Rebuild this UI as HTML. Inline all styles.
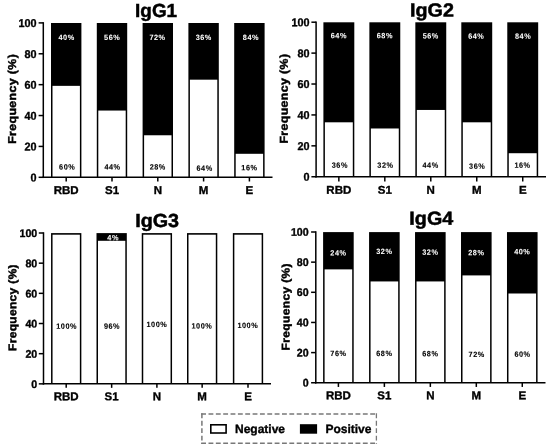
<!DOCTYPE html>
<html><head><meta charset="utf-8"><title>IgG subclass frequency</title>
<style>
html,body{margin:0;padding:0;background:#fff;}
svg{display:block;font-family:"Liberation Sans", Arial, sans-serif;font-weight:bold;}
</style></head>
<body>
<svg width="550" height="448" viewBox="0 0 550 448">
<rect width="550" height="448" fill="#fff"/>
<g><rect x="51.00" y="23.00" width="30.40" height="154.30" fill="#000"/>
<rect x="52.50" y="85.86" width="27.40" height="91.44" fill="#fff"/>
<line x1="66.20" y1="177.30" x2="66.20" y2="181.50" stroke="#000" stroke-width="1.5"/>
<text transform="translate(66.20,194.00) rotate(0.04) scale(1.02,1)" font-size="11.3" text-anchor="middle" fill="#000" stroke="#000" stroke-width="0.35">RBD</text>
<text transform="translate(66.60,40.00) rotate(0.04) scale(0.95,1)" font-size="7.7" text-anchor="middle" fill="#fff" stroke="#fff" stroke-width="0.05" letter-spacing="0.55">40%</text>
<text transform="translate(67.20,169.50) rotate(0.04) scale(0.95,1)" font-size="7.7" text-anchor="middle" fill="#000" stroke="#000" stroke-width="0.1" letter-spacing="0.55">60%</text>
<rect x="96.80" y="23.00" width="30.40" height="154.30" fill="#000"/>
<rect x="98.30" y="110.56" width="27.40" height="66.74" fill="#fff"/>
<line x1="112.00" y1="177.30" x2="112.00" y2="181.50" stroke="#000" stroke-width="1.5"/>
<text transform="translate(112.00,194.00) rotate(0.04) scale(1.02,1)" font-size="11.3" text-anchor="middle" fill="#000" stroke="#000" stroke-width="0.35">S1</text>
<text transform="translate(112.20,40.00) rotate(0.04) scale(0.95,1)" font-size="7.7" text-anchor="middle" fill="#fff" stroke="#fff" stroke-width="0.05" letter-spacing="0.55">56%</text>
<text transform="translate(112.50,169.50) rotate(0.04) scale(0.95,1)" font-size="7.7" text-anchor="middle" fill="#000" stroke="#000" stroke-width="0.1" letter-spacing="0.55">44%</text>
<rect x="142.60" y="23.00" width="30.40" height="154.30" fill="#000"/>
<rect x="144.10" y="135.27" width="27.40" height="42.03" fill="#fff"/>
<line x1="157.80" y1="177.30" x2="157.80" y2="181.50" stroke="#000" stroke-width="1.5"/>
<text transform="translate(157.80,194.00) rotate(0.04) scale(1.02,1)" font-size="11.3" text-anchor="middle" fill="#000" stroke="#000" stroke-width="0.35">N</text>
<text transform="translate(157.50,40.00) rotate(0.04) scale(0.95,1)" font-size="7.7" text-anchor="middle" fill="#fff" stroke="#fff" stroke-width="0.05" letter-spacing="0.55">72%</text>
<text transform="translate(157.80,169.50) rotate(0.04) scale(0.95,1)" font-size="7.7" text-anchor="middle" fill="#000" stroke="#000" stroke-width="0.1" letter-spacing="0.55">28%</text>
<rect x="188.40" y="23.00" width="30.40" height="154.30" fill="#000"/>
<rect x="189.90" y="79.68" width="27.40" height="97.62" fill="#fff"/>
<line x1="203.60" y1="177.30" x2="203.60" y2="181.50" stroke="#000" stroke-width="1.5"/>
<text transform="translate(203.60,194.00) rotate(0.04) scale(1.02,1)" font-size="11.3" text-anchor="middle" fill="#000" stroke="#000" stroke-width="0.35">M</text>
<text transform="translate(203.80,40.00) rotate(0.04) scale(0.95,1)" font-size="7.7" text-anchor="middle" fill="#fff" stroke="#fff" stroke-width="0.05" letter-spacing="0.55">36%</text>
<text transform="translate(204.60,170.70) rotate(0.04) scale(0.95,1)" font-size="7.7" text-anchor="middle" fill="#000" stroke="#000" stroke-width="0.1" letter-spacing="0.55">64%</text>
<rect x="234.20" y="23.00" width="30.40" height="154.30" fill="#000"/>
<rect x="235.70" y="153.80" width="27.40" height="23.50" fill="#fff"/>
<line x1="249.40" y1="177.30" x2="249.40" y2="181.50" stroke="#000" stroke-width="1.5"/>
<text transform="translate(249.40,194.00) rotate(0.04) scale(1.02,1)" font-size="11.3" text-anchor="middle" fill="#000" stroke="#000" stroke-width="0.35">E</text>
<text transform="translate(250.90,40.00) rotate(0.04) scale(0.95,1)" font-size="7.7" text-anchor="middle" fill="#fff" stroke="#fff" stroke-width="0.05" letter-spacing="0.55">84%</text>
<text transform="translate(249.40,170.20) rotate(0.04) scale(0.95,1)" font-size="7.7" text-anchor="middle" fill="#000" stroke="#000" stroke-width="0.1" letter-spacing="0.55">16%</text>
<line x1="43.30" y1="22.15" x2="43.30" y2="178.05" stroke="#000" stroke-width="1.5"/>
<line x1="42.55" y1="177.30" x2="272.50" y2="177.30" stroke="#000" stroke-width="1.5"/>
<line x1="38.60" y1="177.30" x2="43.30" y2="177.30" stroke="#000" stroke-width="1.5"/>
<text transform="translate(36.60,181.45) rotate(0.04) scale(0.96,1)" font-size="11.3" text-anchor="end" fill="#000" stroke="#000" stroke-width="0.35">0</text>
<line x1="38.60" y1="146.42" x2="43.30" y2="146.42" stroke="#000" stroke-width="1.5"/>
<text transform="translate(36.60,150.57) rotate(0.04) scale(0.96,1)" font-size="11.3" text-anchor="end" fill="#000" stroke="#000" stroke-width="0.35">20</text>
<line x1="38.60" y1="115.54" x2="43.30" y2="115.54" stroke="#000" stroke-width="1.5"/>
<text transform="translate(36.60,119.69) rotate(0.04) scale(0.96,1)" font-size="11.3" text-anchor="end" fill="#000" stroke="#000" stroke-width="0.35">40</text>
<line x1="38.60" y1="84.66" x2="43.30" y2="84.66" stroke="#000" stroke-width="1.5"/>
<text transform="translate(36.60,88.81) rotate(0.04) scale(0.96,1)" font-size="11.3" text-anchor="end" fill="#000" stroke="#000" stroke-width="0.35">60</text>
<line x1="38.60" y1="53.78" x2="43.30" y2="53.78" stroke="#000" stroke-width="1.5"/>
<text transform="translate(36.60,57.93) rotate(0.04) scale(0.96,1)" font-size="11.3" text-anchor="end" fill="#000" stroke="#000" stroke-width="0.35">80</text>
<line x1="38.60" y1="22.90" x2="43.30" y2="22.90" stroke="#000" stroke-width="1.5"/>
<text transform="translate(36.60,27.05) rotate(0.04) scale(0.96,1)" font-size="11.3" text-anchor="end" fill="#000" stroke="#000" stroke-width="0.35">100</text>
<text transform="translate(16.00,98.85) rotate(-89.95) scale(1.08,1)" font-size="11.4" text-anchor="middle" fill="#000" stroke="#000" stroke-width="0.45" letter-spacing="0.37">Frequency (%)</text>
<text transform="translate(156.10,17.00) rotate(0.04)" font-size="18.9" text-anchor="middle" fill="#000" stroke="#000" stroke-width="0.5">IgG1</text></g>
<g><rect x="323.40" y="22.30" width="30.90" height="154.45" fill="#000"/>
<rect x="324.90" y="122.31" width="27.90" height="54.44" fill="#fff"/>
<line x1="338.85" y1="176.75" x2="338.85" y2="181.50" stroke="#000" stroke-width="1.5"/>
<text transform="translate(338.85,193.65) rotate(0.04) scale(1.02,1)" font-size="11.3" text-anchor="middle" fill="#000" stroke="#000" stroke-width="0.35">RBD</text>
<text transform="translate(338.85,38.30) rotate(0.04) scale(0.95,1)" font-size="7.7" text-anchor="middle" fill="#fff" stroke="#fff" stroke-width="0.05" letter-spacing="0.55">64%</text>
<text transform="translate(339.85,167.80) rotate(0.04) scale(0.95,1)" font-size="7.7" text-anchor="middle" fill="#000" stroke="#000" stroke-width="0.1" letter-spacing="0.55">36%</text>
<rect x="369.37" y="22.30" width="30.90" height="154.45" fill="#000"/>
<rect x="370.87" y="128.49" width="27.90" height="48.26" fill="#fff"/>
<line x1="384.82" y1="176.75" x2="384.82" y2="181.50" stroke="#000" stroke-width="1.5"/>
<text transform="translate(384.82,193.65) rotate(0.04) scale(1.02,1)" font-size="11.3" text-anchor="middle" fill="#000" stroke="#000" stroke-width="0.35">S1</text>
<text transform="translate(384.82,38.30) rotate(0.04) scale(0.95,1)" font-size="7.7" text-anchor="middle" fill="#fff" stroke="#fff" stroke-width="0.05" letter-spacing="0.55">68%</text>
<text transform="translate(385.42,167.80) rotate(0.04) scale(0.95,1)" font-size="7.7" text-anchor="middle" fill="#000" stroke="#000" stroke-width="0.1" letter-spacing="0.55">32%</text>
<rect x="415.34" y="22.30" width="30.90" height="154.45" fill="#000"/>
<rect x="416.84" y="109.95" width="27.90" height="66.80" fill="#fff"/>
<line x1="430.79" y1="176.75" x2="430.79" y2="181.50" stroke="#000" stroke-width="1.5"/>
<text transform="translate(430.79,193.65) rotate(0.04) scale(1.02,1)" font-size="11.3" text-anchor="middle" fill="#000" stroke="#000" stroke-width="0.35">N</text>
<text transform="translate(430.79,38.60) rotate(0.04) scale(0.95,1)" font-size="7.7" text-anchor="middle" fill="#fff" stroke="#fff" stroke-width="0.05" letter-spacing="0.55">56%</text>
<text transform="translate(430.59,167.80) rotate(0.04) scale(0.95,1)" font-size="7.7" text-anchor="middle" fill="#000" stroke="#000" stroke-width="0.1" letter-spacing="0.55">44%</text>
<rect x="461.31" y="22.30" width="30.90" height="154.45" fill="#000"/>
<rect x="462.81" y="122.31" width="27.90" height="54.44" fill="#fff"/>
<line x1="476.76" y1="176.75" x2="476.76" y2="181.50" stroke="#000" stroke-width="1.5"/>
<text transform="translate(476.76,193.65) rotate(0.04) scale(1.02,1)" font-size="11.3" text-anchor="middle" fill="#000" stroke="#000" stroke-width="0.35">M</text>
<text transform="translate(476.26,38.80) rotate(0.04) scale(0.95,1)" font-size="7.7" text-anchor="middle" fill="#fff" stroke="#fff" stroke-width="0.05" letter-spacing="0.55">64%</text>
<text transform="translate(477.16,168.80) rotate(0.04) scale(0.95,1)" font-size="7.7" text-anchor="middle" fill="#000" stroke="#000" stroke-width="0.1" letter-spacing="0.55">36%</text>
<rect x="507.28" y="22.30" width="30.90" height="154.45" fill="#000"/>
<rect x="508.78" y="153.22" width="27.90" height="23.53" fill="#fff"/>
<line x1="522.73" y1="176.75" x2="522.73" y2="181.50" stroke="#000" stroke-width="1.5"/>
<text transform="translate(522.73,193.65) rotate(0.04) scale(1.02,1)" font-size="11.3" text-anchor="middle" fill="#000" stroke="#000" stroke-width="0.35">E</text>
<text transform="translate(523.13,38.80) rotate(0.04) scale(0.95,1)" font-size="7.7" text-anchor="middle" fill="#fff" stroke="#fff" stroke-width="0.05" letter-spacing="0.55">84%</text>
<text transform="translate(522.53,167.80) rotate(0.04) scale(0.95,1)" font-size="7.7" text-anchor="middle" fill="#000" stroke="#000" stroke-width="0.1" letter-spacing="0.55">16%</text>
<line x1="316.10" y1="21.45" x2="316.10" y2="177.50" stroke="#000" stroke-width="1.5"/>
<line x1="315.35" y1="176.75" x2="546.00" y2="176.75" stroke="#000" stroke-width="1.5"/>
<line x1="311.40" y1="176.75" x2="316.10" y2="176.75" stroke="#000" stroke-width="1.5"/>
<text transform="translate(309.60,180.85) rotate(0.04) scale(0.96,1)" font-size="11.3" text-anchor="end" fill="#000" stroke="#000" stroke-width="0.35">0</text>
<line x1="311.40" y1="145.84" x2="316.10" y2="145.84" stroke="#000" stroke-width="1.5"/>
<text transform="translate(309.60,149.94) rotate(0.04) scale(0.96,1)" font-size="11.3" text-anchor="end" fill="#000" stroke="#000" stroke-width="0.35">20</text>
<line x1="311.40" y1="114.93" x2="316.10" y2="114.93" stroke="#000" stroke-width="1.5"/>
<text transform="translate(309.60,119.03) rotate(0.04) scale(0.96,1)" font-size="11.3" text-anchor="end" fill="#000" stroke="#000" stroke-width="0.35">40</text>
<line x1="311.40" y1="84.02" x2="316.10" y2="84.02" stroke="#000" stroke-width="1.5"/>
<text transform="translate(309.60,88.12) rotate(0.04) scale(0.96,1)" font-size="11.3" text-anchor="end" fill="#000" stroke="#000" stroke-width="0.35">60</text>
<line x1="311.40" y1="53.11" x2="316.10" y2="53.11" stroke="#000" stroke-width="1.5"/>
<text transform="translate(309.60,57.21) rotate(0.04) scale(0.96,1)" font-size="11.3" text-anchor="end" fill="#000" stroke="#000" stroke-width="0.35">80</text>
<line x1="311.40" y1="22.20" x2="316.10" y2="22.20" stroke="#000" stroke-width="1.5"/>
<text transform="translate(309.60,26.30) rotate(0.04) scale(0.96,1)" font-size="11.3" text-anchor="end" fill="#000" stroke="#000" stroke-width="0.35">100</text>
<text transform="translate(287.70,98.62) rotate(-89.95) scale(1.08,1)" font-size="11.4" text-anchor="middle" fill="#000" stroke="#000" stroke-width="0.45" letter-spacing="0.37">Frequency (%)</text>
<text transform="translate(432.00,16.50) rotate(0.04) scale(1.045,1)" font-size="18.9" text-anchor="middle" fill="#000" stroke="#000" stroke-width="0.5">IgG2</text></g>
<g><rect x="51.05" y="233.10" width="30.30" height="150.75" fill="#000"/>
<rect x="52.55" y="234.70" width="27.30" height="149.15" fill="#fff"/>
<line x1="66.20" y1="383.85" x2="66.20" y2="387.85" stroke="#000" stroke-width="1.5"/>
<text transform="translate(66.20,400.35) rotate(0.04) scale(1.02,1)" font-size="11.3" text-anchor="middle" fill="#000" stroke="#000" stroke-width="0.35">RBD</text>
<text transform="translate(66.60,328.70) rotate(0.04) scale(0.95,1)" font-size="7.7" text-anchor="middle" fill="#000" stroke="#000" stroke-width="0.1" letter-spacing="0.55">100%</text>
<rect x="96.50" y="233.10" width="30.30" height="150.75" fill="#000"/>
<rect x="98.00" y="240.80" width="27.30" height="143.05" fill="#fff"/>
<line x1="111.65" y1="383.85" x2="111.65" y2="387.85" stroke="#000" stroke-width="1.5"/>
<text transform="translate(111.65,400.35) rotate(0.04) scale(1.02,1)" font-size="11.3" text-anchor="middle" fill="#000" stroke="#000" stroke-width="0.35">S1</text>
<text transform="translate(113.15,240.20) rotate(0.04) scale(0.95,1)" font-size="7.7" text-anchor="middle" fill="#fff" stroke="#fff" stroke-width="0.05" letter-spacing="0.55">4%</text>
<text transform="translate(112.05,328.70) rotate(0.04) scale(0.95,1)" font-size="7.7" text-anchor="middle" fill="#000" stroke="#000" stroke-width="0.1" letter-spacing="0.55">96%</text>
<rect x="141.75" y="233.10" width="30.30" height="150.75" fill="#000"/>
<rect x="143.25" y="234.70" width="27.30" height="149.15" fill="#fff"/>
<line x1="156.90" y1="383.85" x2="156.90" y2="387.85" stroke="#000" stroke-width="1.5"/>
<text transform="translate(156.90,400.35) rotate(0.04) scale(1.02,1)" font-size="11.3" text-anchor="middle" fill="#000" stroke="#000" stroke-width="0.35">N</text>
<text transform="translate(156.90,327.10) rotate(0.04) scale(0.95,1)" font-size="7.7" text-anchor="middle" fill="#000" stroke="#000" stroke-width="0.1" letter-spacing="0.55">100%</text>
<rect x="187.00" y="233.10" width="30.30" height="150.75" fill="#000"/>
<rect x="188.50" y="234.70" width="27.30" height="149.15" fill="#fff"/>
<line x1="202.15" y1="383.85" x2="202.15" y2="387.85" stroke="#000" stroke-width="1.5"/>
<text transform="translate(202.15,400.35) rotate(0.04) scale(1.02,1)" font-size="11.3" text-anchor="middle" fill="#000" stroke="#000" stroke-width="0.35">M</text>
<text transform="translate(201.85,328.50) rotate(0.04) scale(0.95,1)" font-size="7.7" text-anchor="middle" fill="#000" stroke="#000" stroke-width="0.1" letter-spacing="0.55">100%</text>
<rect x="232.85" y="233.10" width="30.30" height="150.75" fill="#000"/>
<rect x="234.35" y="234.70" width="27.30" height="149.15" fill="#fff"/>
<line x1="248.00" y1="383.85" x2="248.00" y2="387.85" stroke="#000" stroke-width="1.5"/>
<text transform="translate(248.00,400.35) rotate(0.04) scale(1.02,1)" font-size="11.3" text-anchor="middle" fill="#000" stroke="#000" stroke-width="0.35">E</text>
<text transform="translate(247.80,328.10) rotate(0.04) scale(0.95,1)" font-size="7.7" text-anchor="middle" fill="#000" stroke="#000" stroke-width="0.1" letter-spacing="0.55">100%</text>
<line x1="43.50" y1="232.25" x2="43.50" y2="384.60" stroke="#000" stroke-width="1.5"/>
<line x1="42.75" y1="383.85" x2="271.00" y2="383.85" stroke="#000" stroke-width="1.5"/>
<line x1="38.80" y1="383.85" x2="43.50" y2="383.85" stroke="#000" stroke-width="1.5"/>
<text transform="translate(37.20,387.95) rotate(0.04) scale(0.96,1)" font-size="11.07" text-anchor="end" fill="#000" stroke="#000" stroke-width="0.35">0</text>
<line x1="38.80" y1="353.68" x2="43.50" y2="353.68" stroke="#000" stroke-width="1.5"/>
<text transform="translate(37.20,357.78) rotate(0.04) scale(0.96,1)" font-size="11.07" text-anchor="end" fill="#000" stroke="#000" stroke-width="0.35">20</text>
<line x1="38.80" y1="323.51" x2="43.50" y2="323.51" stroke="#000" stroke-width="1.5"/>
<text transform="translate(37.20,327.61) rotate(0.04) scale(0.96,1)" font-size="11.07" text-anchor="end" fill="#000" stroke="#000" stroke-width="0.35">40</text>
<line x1="38.80" y1="293.34" x2="43.50" y2="293.34" stroke="#000" stroke-width="1.5"/>
<text transform="translate(37.20,297.44) rotate(0.04) scale(0.96,1)" font-size="11.07" text-anchor="end" fill="#000" stroke="#000" stroke-width="0.35">60</text>
<line x1="38.80" y1="263.17" x2="43.50" y2="263.17" stroke="#000" stroke-width="1.5"/>
<text transform="translate(37.20,267.27) rotate(0.04) scale(0.96,1)" font-size="11.07" text-anchor="end" fill="#000" stroke="#000" stroke-width="0.35">80</text>
<line x1="38.80" y1="233.00" x2="43.50" y2="233.00" stroke="#000" stroke-width="1.5"/>
<text transform="translate(37.20,237.10) rotate(0.04) scale(0.96,1)" font-size="11.07" text-anchor="end" fill="#000" stroke="#000" stroke-width="0.35">100</text>
<text transform="translate(16.30,307.52) rotate(-89.95) scale(1.065,1)" font-size="11.17" text-anchor="middle" fill="#000" stroke="#000" stroke-width="0.45" letter-spacing="0.37">Frequency (%)</text>
<text transform="translate(157.10,227.10) rotate(0.04) scale(1.045,1)" font-size="18.9" text-anchor="middle" fill="#000" stroke="#000" stroke-width="0.5">IgG3</text></g>
<g><rect x="323.10" y="232.10" width="30.60" height="150.65" fill="#000"/>
<rect x="324.60" y="269.38" width="27.60" height="113.37" fill="#fff"/>
<line x1="338.40" y1="382.75" x2="338.40" y2="386.95" stroke="#000" stroke-width="1.5"/>
<text transform="translate(338.40,399.15) rotate(0.04) scale(1.02,1)" font-size="11.3" text-anchor="middle" fill="#000" stroke="#000" stroke-width="0.35">RBD</text>
<text transform="translate(338.40,255.40) rotate(0.04) scale(0.95,1)" font-size="7.7" text-anchor="middle" fill="#fff" stroke="#fff" stroke-width="0.05" letter-spacing="0.55">24%</text>
<text transform="translate(338.40,356.00) rotate(0.04) scale(0.95,1)" font-size="7.7" text-anchor="middle" fill="#000" stroke="#000" stroke-width="0.1" letter-spacing="0.55">76%</text>
<rect x="369.07" y="232.10" width="30.60" height="150.65" fill="#000"/>
<rect x="370.57" y="281.44" width="27.60" height="101.31" fill="#fff"/>
<line x1="384.37" y1="382.75" x2="384.37" y2="386.95" stroke="#000" stroke-width="1.5"/>
<text transform="translate(384.37,399.15) rotate(0.04) scale(1.02,1)" font-size="11.3" text-anchor="middle" fill="#000" stroke="#000" stroke-width="0.35">S1</text>
<text transform="translate(384.37,253.90) rotate(0.04) scale(0.95,1)" font-size="7.7" text-anchor="middle" fill="#fff" stroke="#fff" stroke-width="0.05" letter-spacing="0.55">32%</text>
<text transform="translate(384.37,356.10) rotate(0.04) scale(0.95,1)" font-size="7.7" text-anchor="middle" fill="#000" stroke="#000" stroke-width="0.1" letter-spacing="0.55">68%</text>
<rect x="415.04" y="232.10" width="30.60" height="150.65" fill="#000"/>
<rect x="416.54" y="281.44" width="27.60" height="101.31" fill="#fff"/>
<line x1="430.34" y1="382.75" x2="430.34" y2="386.95" stroke="#000" stroke-width="1.5"/>
<text transform="translate(430.34,399.15) rotate(0.04) scale(1.02,1)" font-size="11.3" text-anchor="middle" fill="#000" stroke="#000" stroke-width="0.35">N</text>
<text transform="translate(430.34,254.80) rotate(0.04) scale(0.95,1)" font-size="7.7" text-anchor="middle" fill="#fff" stroke="#fff" stroke-width="0.05" letter-spacing="0.55">32%</text>
<text transform="translate(430.34,356.30) rotate(0.04) scale(0.95,1)" font-size="7.7" text-anchor="middle" fill="#000" stroke="#000" stroke-width="0.1" letter-spacing="0.55">68%</text>
<rect x="461.01" y="232.10" width="30.60" height="150.65" fill="#000"/>
<rect x="462.51" y="275.41" width="27.60" height="107.34" fill="#fff"/>
<line x1="476.31" y1="382.75" x2="476.31" y2="386.95" stroke="#000" stroke-width="1.5"/>
<text transform="translate(476.31,399.15) rotate(0.04) scale(1.02,1)" font-size="11.3" text-anchor="middle" fill="#000" stroke="#000" stroke-width="0.35">M</text>
<text transform="translate(476.31,255.30) rotate(0.04) scale(0.95,1)" font-size="7.7" text-anchor="middle" fill="#fff" stroke="#fff" stroke-width="0.05" letter-spacing="0.55">28%</text>
<text transform="translate(476.71,357.10) rotate(0.04) scale(0.95,1)" font-size="7.7" text-anchor="middle" fill="#000" stroke="#000" stroke-width="0.1" letter-spacing="0.55">72%</text>
<rect x="506.98" y="232.10" width="30.60" height="150.65" fill="#000"/>
<rect x="508.48" y="293.50" width="27.60" height="89.25" fill="#fff"/>
<line x1="522.28" y1="382.75" x2="522.28" y2="386.95" stroke="#000" stroke-width="1.5"/>
<text transform="translate(522.28,399.15) rotate(0.04) scale(1.02,1)" font-size="11.3" text-anchor="middle" fill="#000" stroke="#000" stroke-width="0.35">E</text>
<text transform="translate(522.28,254.20) rotate(0.04) scale(0.95,1)" font-size="7.7" text-anchor="middle" fill="#fff" stroke="#fff" stroke-width="0.05" letter-spacing="0.55">40%</text>
<text transform="translate(522.48,356.80) rotate(0.04) scale(0.95,1)" font-size="7.7" text-anchor="middle" fill="#000" stroke="#000" stroke-width="0.1" letter-spacing="0.55">60%</text>
<line x1="315.80" y1="231.25" x2="315.80" y2="383.50" stroke="#000" stroke-width="1.5"/>
<line x1="315.05" y1="382.75" x2="545.50" y2="382.75" stroke="#000" stroke-width="1.5"/>
<line x1="311.10" y1="382.75" x2="315.80" y2="382.75" stroke="#000" stroke-width="1.5"/>
<text transform="translate(308.60,386.55) rotate(0.04) scale(0.96,1)" font-size="11.07" text-anchor="end" fill="#000" stroke="#000" stroke-width="0.35">0</text>
<line x1="311.10" y1="352.60" x2="315.80" y2="352.60" stroke="#000" stroke-width="1.5"/>
<text transform="translate(308.60,356.40) rotate(0.04) scale(0.96,1)" font-size="11.07" text-anchor="end" fill="#000" stroke="#000" stroke-width="0.35">20</text>
<line x1="311.10" y1="322.45" x2="315.80" y2="322.45" stroke="#000" stroke-width="1.5"/>
<text transform="translate(308.60,326.25) rotate(0.04) scale(0.96,1)" font-size="11.07" text-anchor="end" fill="#000" stroke="#000" stroke-width="0.35">40</text>
<line x1="311.10" y1="292.30" x2="315.80" y2="292.30" stroke="#000" stroke-width="1.5"/>
<text transform="translate(308.60,296.10) rotate(0.04) scale(0.96,1)" font-size="11.07" text-anchor="end" fill="#000" stroke="#000" stroke-width="0.35">60</text>
<line x1="311.10" y1="262.15" x2="315.80" y2="262.15" stroke="#000" stroke-width="1.5"/>
<text transform="translate(308.60,265.95) rotate(0.04) scale(0.96,1)" font-size="11.07" text-anchor="end" fill="#000" stroke="#000" stroke-width="0.35">80</text>
<line x1="311.10" y1="232.00" x2="315.80" y2="232.00" stroke="#000" stroke-width="1.5"/>
<text transform="translate(308.60,235.80) rotate(0.04) scale(0.96,1)" font-size="11.07" text-anchor="end" fill="#000" stroke="#000" stroke-width="0.35">100</text>
<text transform="translate(289.60,306.77) rotate(-89.95) scale(1.07,1)" font-size="11.17" text-anchor="middle" fill="#000" stroke="#000" stroke-width="0.45" letter-spacing="0.37">Frequency (%)</text>
<text transform="translate(431.30,224.80) rotate(0.04) scale(1.045,1)" font-size="18.9" text-anchor="middle" fill="#000" stroke="#000" stroke-width="0.5">IgG4</text></g>
<g><g stroke="#787878" stroke-width="1.5" stroke-dasharray="4.85 2.5" fill="none"><line x1="201.15" y1="414.1" x2="377.1" y2="414.1"/><line x1="201.15" y1="443.35" x2="377.1" y2="443.35"/><line x1="201.9" y1="413.35" x2="201.9" y2="444.1" stroke-dasharray="4.85 2.6"/><line x1="376.4" y1="413.35" x2="376.4" y2="444.1" stroke-dasharray="4.85 2.6" stroke-width="1.3"/></g>
<rect x="210.8" y="424.8" width="15.3" height="8.2" fill="#fff" stroke="#000" stroke-width="1.6"/>
<rect x="299.9" y="424.2" width="17.2" height="9.5" fill="#000"/>
<text transform="translate(235.00,433.00) rotate(0.04)" font-size="12" text-anchor="start" fill="#000" stroke="#000" stroke-width="0.35">Negative</text>
<text transform="translate(325.40,433.00) rotate(0.04)" font-size="12" text-anchor="start" fill="#000" stroke="#000" stroke-width="0.35">Positive</text></g>
</svg>
</body></html>
